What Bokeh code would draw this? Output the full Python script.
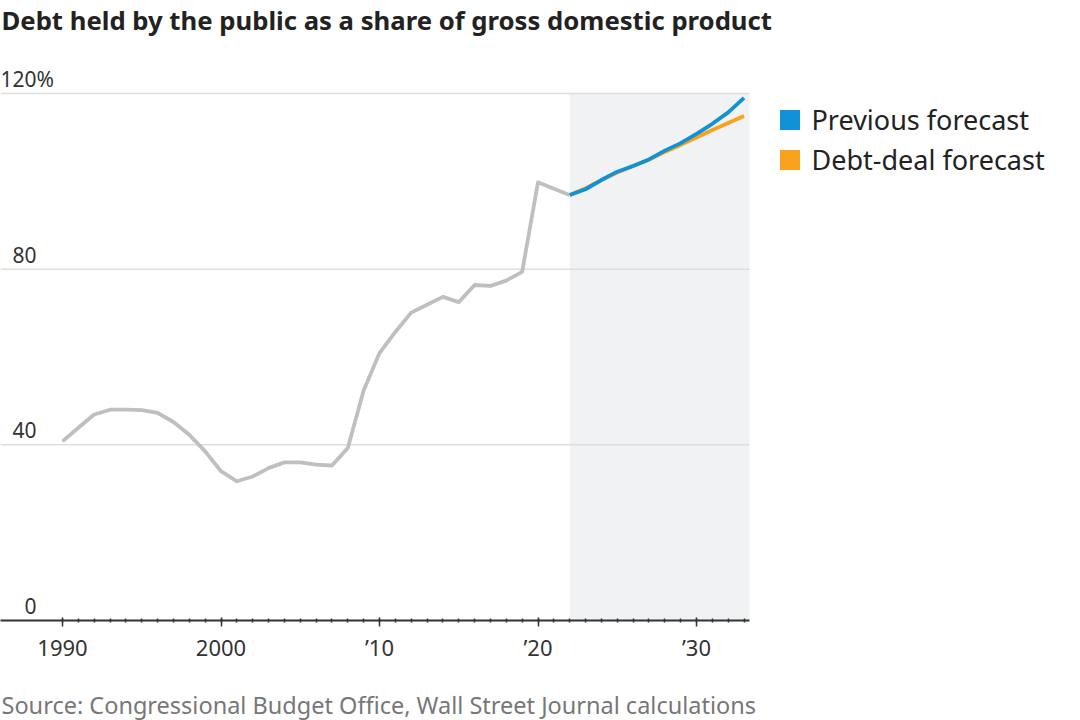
from bokeh.plotting import figure
from bokeh.layouts import column
from bokeh.models import (Range1d, FixedTicker, Label, Legend, LegendItem)
from bokeh.embed import file_html
from bokeh.resources import INLINE

# ---------------- data ----------------
years_hist = list(range(1990, 2023))
debt_hist = [40.8, 43.9, 46.9, 48.0, 48.0, 47.9, 47.3, 45.2, 42.3, 38.5,
             34.0, 31.7, 32.8, 34.7, 36.0, 36.0, 35.5, 35.3, 39.3, 52.4,
             60.9, 65.7, 70.1, 71.9, 73.7, 72.5, 76.4, 76.2, 77.4, 79.4,
             99.8, 98.3, 96.9]

years_fc = list(range(2022, 2034))
prev_forecast = [96.9, 98.2, 100.3, 102.2, 103.5, 105.0, 107.0, 108.7,
                 110.8, 113.1, 115.7, 119.0]
deal_forecast = [96.9, 98.4, 100.3, 102.0, 103.5, 104.9, 106.7, 108.3,
                 110.0, 111.7, 113.3, 114.9]

forecast_start = [2022]
y_ticks = [0, 40, 80, 120]
y_tick_labels = ["0", "40", "80", "120"]
x_ticks = [1990, 2000, 2010, 2020, 2030]
x_tick_labels = ["1990", "2000", "\u201910", "\u201920", "\u201930"]
series_names = ["Previous forecast", "Debt-deal forecast"]

title_text = "Debt held by the public as a share of gross domestic product"
source_text = "Source: Congressional Budget Office, Wall Street Journal calculations"

# ---------------- style ----------------
FONT = "Noto Sans"
GRAY = "#bfbfbf"
BLUE = "#1192d6"
ORANGE = "#f8a21d"
SHADE = "#f1f2f4"
GRID = "#dedede"
INK = "#333333"

W = 1064
H_MAIN, H_SRC = 665, 55
FRAME_BOTTOM = 620
PX_PER_YEAR = 15.85

x_start = 1986.088          # left edge of the chart area
x_lim = 2033.344            # right edge of the chart area (axis / grid end)
x_end = x_start + W / PX_PER_YEAR   # frame spans the full canvas width
y_start, y_end = 0, 141.18

p = figure(width=W, height=H_MAIN, output_backend="svg", toolbar_location=None,
           x_range=Range1d(x_start, x_end), y_range=Range1d(y_start, y_end),
           y_axis_location=None,
           min_border_left=0, min_border_right=0,
           min_border_top=0, min_border_bottom=H_MAIN - FRAME_BOTTOM)
p.outline_line_color = None
p.background_fill_color = "white"
p.border_fill_color = "white"
p.xgrid.visible = False
p.ygrid.visible = False

# forecast shading
p.quad(left=forecast_start, right=[x_lim], bottom=[y_ticks[0]], top=[y_ticks[-1]],
       fill_color=SHADE, line_color=None, level="image")

# horizontal grid lines, limited to the chart area
p.segment(x0=[x_start] * 3, x1=[x_lim] * 3, y0=y_ticks[1:], y1=y_ticks[1:],
          line_color=GRID, line_width=1.5, level="underlay")

# x axis
ax = p.xaxis[0]
ax.bounds = (x_start, x_lim)
ax.ticker = FixedTicker(ticks=x_ticks, minor_ticks=list(range(x_ticks[0], years_fc[-1] + 1)))
ax.major_label_overrides = {t: l for t, l in zip(x_ticks, x_tick_labels)}
ax.axis_line_color = INK
ax.axis_line_width = 2
ax.major_tick_line_color = INK
ax.major_tick_line_width = 1.5
ax.major_tick_in = 3
ax.major_tick_out = 6
ax.minor_tick_line_color = INK
ax.minor_tick_line_width = 1.5
ax.minor_tick_in = 2
ax.minor_tick_out = 2
ax.major_label_text_font = FONT
ax.major_label_text_font_size = "22px"
ax.major_label_text_color = INK
ax.major_label_standoff = 5

# lines
p.line(years_hist, debt_hist, line_color=GRAY, line_width=3.8, line_join="round")
p.line(years_fc, deal_forecast, line_color=ORANGE, line_width=3.8, line_join="round")
p.line(years_fc, prev_forecast, line_color=BLUE, line_width=3.8, line_join="round")

# y tick labels (above grid lines, right-aligned)
for v, lab in zip(y_ticks, y_tick_labels):
    p.add_layout(Label(x=36, y=v, x_units="screen", y_units="data", text=lab,
                       text_align="right", text_baseline="middle", y_offset=14.5,
                       text_font=FONT, text_font_size="21px", text_color=INK))
p.add_layout(Label(x=36, y=y_ticks[-1], x_units="screen", y_units="data", text="%",
                   text_align="left", text_baseline="middle", y_offset=14.5,
                   text_font=FONT, text_font_size="21px", text_color=INK))

# title
p.add_layout(Label(x=1, y=FRAME_BOTTOM - 19.5, x_units="screen", y_units="screen",
                   text=title_text, text_baseline="middle",
                   text_font=FONT, text_font_style="bold", text_font_size="25.7px",
                   text_color="#222222"))

# legend (zero-size quads at the last forecast point provide the swatches)
r_prev = p.quad(left=[years_fc[-1]], right=[years_fc[-1]],
                bottom=[prev_forecast[-1]], top=[prev_forecast[-1]],
                fill_color=BLUE, line_color=None)
r_deal = p.quad(left=[years_fc[-1]], right=[years_fc[-1]],
                bottom=[deal_forecast[-1]], top=[deal_forecast[-1]],
                fill_color=ORANGE, line_color=None)
legend = Legend(items=[LegendItem(label=series_names[0], renderers=[r_prev]),
                       LegendItem(label=series_names[1], renderers=[r_deal])],
                location=(776.5, FRAME_BOTTOM - 178.4),
                glyph_width=25, glyph_height=25, label_height=25,
                spacing=3, label_standoff=10, padding=0, margin=0,
                border_line_color=None, background_fill_alpha=0,
                label_text_font=FONT, label_text_font_size="27px",
                label_text_color="#222222")
p.add_layout(legend, "center")

# source line (separate strip below the chart)
s = figure(width=W, height=H_SRC, output_backend="svg", toolbar_location=None,
           x_range=Range1d(0, 1), y_range=Range1d(0, 1),
           x_axis_location=None, y_axis_location=None,
           min_border_left=0, min_border_right=0, min_border_top=0, min_border_bottom=0)
s.outline_line_color = None
s.xgrid.visible = False
s.ygrid.visible = False
s.add_layout(Label(x=1, y=16, x_units="screen", y_units="screen", text=source_text,
                   text_baseline="middle", text_font=FONT, text_font_size="23.5px",
                   text_color="#777777"))

layout = column(p, s, spacing=0)
open("out.html", "w").write(file_html(layout, INLINE))
